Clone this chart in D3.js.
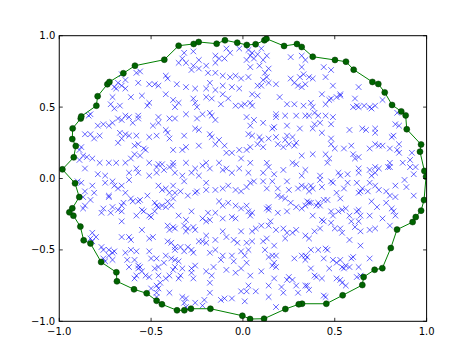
<!DOCTYPE html>
<meta charset="utf-8">
<html>
<head>
<title>Points and boundary</title>
<style>
  body { margin: 0; background: #fff; }
  svg { display: block; }
  text { font-family: "DejaVu Sans", sans-serif; font-size: 10px; fill: #000; }
</style>
</head>
<body>
<svg width="474" height="357"></svg>
<script src="https://cdn.jsdelivr.net/npm/d3@7"></script>
<script>

// boundary vertices (green), in drawing order
var hullX = [-0.35,-0.268,-0.241,-0.143,-0.098,-0.031,0.021,0.069,0.117,0.128,0.224,0.294,0.32,0.38,0.501,0.561,0.603,0.705,0.737,0.772,0.812,0.862,0.886,0.892,0.97,0.964,0.988,0.997,0.986,0.97,0.941,0.924,0.839,0.805,0.759,0.717,0.657,0.65,0.543,0.454,0.322,0.304,0.231,0.115,0.039,-0.003,-0.177,-0.283,-0.319,-0.359,-0.441,-0.47,-0.524,-0.593,-0.686,-0.689,-0.772,-0.83,-0.867,-0.885,-0.923,-0.945,-0.929,-0.891,-0.914,-0.983,-0.921,-0.91,-0.929,-0.927,-0.883,-0.88,-0.798,-0.791,-0.738,-0.727,-0.651,-0.588,-0.428];
var hullY = [0.93,0.942,0.956,0.944,0.968,0.951,0.935,0.94,0.968,0.979,0.928,0.942,0.921,0.853,0.83,0.818,0.762,0.676,0.662,0.603,0.515,0.47,0.442,0.345,0.238,0.188,0.053,0.013,-0.151,-0.225,-0.27,-0.305,-0.358,-0.487,-0.628,-0.639,-0.69,-0.746,-0.818,-0.877,-0.877,-0.881,-0.914,-0.982,-0.984,-0.961,-0.912,-0.912,-0.923,-0.923,-0.881,-0.856,-0.804,-0.776,-0.72,-0.657,-0.585,-0.455,-0.433,-0.337,-0.26,-0.237,-0.209,-0.13,-0.034,0.064,0.148,0.228,0.276,0.351,0.42,0.435,0.51,0.576,0.66,0.676,0.737,0.79,0.832];

// scattered points (blue x), read per quadrant
var pointsNW = [[-.32,.88],[-.27,.89],[-.33,.84],[-.24,.83],[-.27,.79],[-.20,.79],[-.15,.86],[-.13,.84],[-.10,.84],[-.09,.91],[-.07,.88],[-.02,.91],[-.35,.81],[-.31,.81],[-.28,.76],[-.24,.77],[-.19,.74],[-.15,.81],[-.15,.74],[-.11,.72],[-.07,.71],[-.04,.72],[-.01,.70],[-.06,.64],[-.02,.63],[-.11,.65],[-.15,.62],[-.18,.67],[-.20,.63],[-.26,.63],[-.31,.64],[-.36,.66],[-.41,.70],[-.42,.72],[-.46,.65],[-.48,.66],[-.51,.66],[-.57,.67],[-.56,.75],[-.58,.74],[-.66,.73],[-.64,.69],[-.66,.65],[-.68,.67],[-.70,.64],[-.69,.63],[-.64,.63],[-.61,.57],[-.71,.57],[-.72,.52],[-.67,.51],[-.70,.49],[-.55,.58],[-.51,.53],[-.52,.51],[-.42,.59],[-.38,.55],[-.35,.53],[-.37,.50],[-.27,.56],[-.26,.53],[-.25,.50],[-.20,.57],[-.17,.56],[-.11,.59],[-.12,.52],[-.08,.56],[-.04,.51],[-.01,.51],[-.18,.46],[-.17,.44],[-.15,.41],[-.22,.45],[-.25,.42],[-.31,.45],[-.37,.42],[-.40,.42],[-.46,.43],[-.49,.37],[-.46,.39],[-.57,.44],[-.57,.42],[-.60,.39],[-.62,.43],[-.64,.44],[-.66,.41],[-.68,.42],[-.71,.39],[-.73,.37],[-.76,.38],[-.79,.37],[-.83,.45],[-.84,.44],[-.67,.32],[-.64,.31],[-.62,.30],[-.58,.30],[-.66,.28],[-.68,.25],[-.78,.30],[-.81,.28],[-.86,.31],[-.83,.31],[-.51,.29],[-.47,.30],[-.42,.34],[-.41,.32],[-.40,.28],[-.32,.30],[-.26,.35],[-.24,.34],[-.18,.31],[-.17,.29],[-.15,.24],[-.13,.27],[-.10,.23],[-.09,.18],[-.06,.18],[-.02,.20],[-.01,.14],[-.24,.23],[-.31,.22],[-.33,.20],[-.38,.20],[-.38,.11],[-.38,.09],[-.40,.08],[-.44,.10],[-.46,.10],[-.47,.08],[-.54,.21],[-.53,.20],[-.57,.24],[-.59,.23],[-.59,.17],[-.61,.14],[-.64,.11],[-.58,.07],[-.57,.04],[-.62,.04],[-.69,.11],[-.73,.11],[-.78,.11],[-.82,.14],[-.85,.15],[-.87,.16],[-.89,.13],[-.86,.07],[-.79,.03],[-.75,.02],[-.20,.11],[-.22,.09],[-.26,.07],[-.31,.11],[-.28,.04],[-.24,.02],[-.18,.07],[-.13,.11],[-.09,.07],[-.02,.07],[-.11,.06],[-.06,.04],[-.47,.04],[-.43,.06],[-.37,.04],[-.33,.02],[-.51,.02],[-.89,.20],[-.88,.22],[-.56,.16],[-.51,.11]];

var pointsNE = [[.03,.90],[.05,.88],[.04,.86],[.02,.83],[.06,.84],[.08,.87],[.10,.91],[.13,.86],[.11,.83],[.09,.79],[.14,.77],[.12,.74],[.13,.71],[.14,.67],[.11,.69],[.04,.78],[.03,.71],[.08,.65],[.10,.65],[.18,.66],[.05,.59],[.08,.58],[.04,.53],[.05,.51],[.01,.52],[.20,.57],[.24,.52],[.28,.52],[.33,.51],[.37,.53],[.38,.50],[.39,.46],[.36,.44],[.41,.44],[.45,.44],[.26,.85],[.32,.86],[.34,.83],[.32,.78],[.33,.73],[.36,.71],[.38,.70],[.26,.70],[.28,.67],[.30,.65],[.32,.64],[.34,.66],[.31,.71],[.44,.78],[.48,.76],[.45,.71],[.49,.65],[.43,.59],[.47,.55],[.48,.56],[.51,.57],[.53,.58],[.53,.59],[.45,.52],[.61,.56],[.62,.51],[.63,.50],[.60,.50],[.63,.64],[.66,.51],[.69,.50],[.70,.49],[.72,.51],[.76,.55],[.84,.46],[.85,.37],[.83,.38],[.82,.30],[.81,.29],[.72,.35],[.72,.32],[.65,.35],[.67,.34],[.58,.34],[.49,.43],[.48,.38],[.42,.39],[.43,.32],[.38,.35],[.39,.38],[.34,.44],[.31,.35],[.27,.29],[.24,.30],[.23,.27],[.25,.24],[.28,.23],[.29,.25],[.22,.22],[.19,.24],[.18,.29],[.17,.36],[.16,.35],[.11,.39],[.06,.41],[.02,.43],[.04,.37],[.03,.31],[.05,.30],[.09,.29],[.10,.27],[.11,.22],[.14,.28],[.08,.24],[.04,.22],[.02,.20],[.13,.11],[.14,.08],[.04,.11],[.03,.04],[.11,.04],[.17,.03],[.22,.06],[.27,.11],[.29,.10],[.32,.16],[.38,.17],[.45,.17],[.47,.14],[.46,.11],[.50,.21],[.48,.28],[.48,.24],[.55,.21],[.59,.23],[.60,.17],[.61,.14],[.63,.15],[.69,.21],[.72,.24],[.74,.23],[.76,.23],[.80,.21],[.84,.20],[.85,.24],[.85,.18],[.80,.11],[.79,.08],[.74,.07],[.72,.04],[.72,.08],[.69,.06],[.70,.02],[.63,.04],[.63,.07],[.57,.03],[.52,.04],[.53,.02],[.32,.02],[.34,.06],[.42,.02],[.91,.13],[.94,.08],[.91,.08],[.87,.11],[.92,.18],[.18,.43],[.18,.45],[.23,.44],[.24,.37],[.29,.44],[.80,.08],[.93,.03]];

var pointsSW = [[-.90,-.02],[-.88,-.03],[-.82,-.05],[-.86,-.09],[-.87,-.13],[-.83,-.15],[-.86,-.19],[-.87,-.21],[-.81,-.10],[-.75,-.03],[-.71,-.02],[-.70,-.05],[-.68,-.07],[-.66,-.05],[-.62,-.01],[-.73,-.12],[-.73,-.13],[-.64,-.10],[-.61,-.14],[-.56,-.15],[-.57,-.16],[-.60,-.16],[-.65,-.17],[-.66,-.19],[-.68,-.22],[-.71,-.20],[-.76,-.21],[-.77,-.24],[-.72,-.24],[-.66,-.23],[-.66,-.30],[-.55,-.22],[-.54,-.23],[-.58,-.26],[-.51,-.26],[-.50,-.27],[-.48,-.23],[-.52,-.12],[-.48,-.17],[-.47,-.19],[-.46,-.20],[-.44,-.19],[-.42,-.20],[-.41,-.16],[-.39,-.19],[-.38,-.14],[-.38,-.05],[-.42,-.07],[-.46,-.05],[-.44,-.08],[-.40,-.10],[-.37,-.10],[-.34,-.09],[-.32,-.02],[-.30,-.12],[-.26,-.10],[-.25,-.09],[-.20,-.08],[-.20,-.03],[-.15,-.08],[-.11,-.07],[-.08,-.05],[-.04,-.08],[-.01,-.09],[-.13,-.16],[-.11,-.19],[-.08,-.17],[-.04,-.19],[-.01,-.21],[-.06,-.27],[-.04,-.28],[-.11,-.28],[-.15,-.24],[-.19,-.24],[-.22,-.28],[-.28,-.23],[-.31,-.29],[-.35,-.26],[-.38,-.34],[-.37,-.35],[-.41,-.33],[-.40,-.36],[-.32,-.33],[-.30,-.35],[-.31,-.37],[-.27,-.34],[-.26,-.36],[-.20,-.30],[-.18,-.29],[-.20,-.40],[-.22,-.44],[-.24,-.44],[-.20,-.45],[-.15,-.43],[-.11,-.37],[-.09,-.41],[-.05,-.43],[-.03,-.45],[-.01,-.37],[-.01,-.51],[-.06,-.54],[-.11,-.54],[-.12,-.57],[-.05,-.58],[-.01,-.63],[-.04,-.66],[-.09,-.64],[-.16,-.62],[-.17,-.68],[-.20,-.65],[-.18,-.73],[-.26,-.61],[-.28,-.63],[-.28,-.66],[-.27,-.70],[-.33,-.63],[-.34,-.68],[-.35,-.70],[-.37,-.62],[-.38,-.64],[-.40,-.68],[-.42,-.70],[-.46,-.68],[-.45,-.73],[-.47,-.75],[-.50,-.77],[-.47,-.83],[-.40,-.80],[-.33,-.83],[-.31,-.84],[-.32,-.87],[-.31,-.90],[-.26,-.87],[-.21,-.85],[-.18,-.80],[-.12,-.85],[-.10,-.84],[-.06,-.84],[-.01,-.79],[-.22,-.89],[-.37,-.50],[-.37,-.57],[-.39,-.56],[-.42,-.54],[-.47,-.56],[-.51,-.51],[-.50,-.56],[-.56,-.62],[-.57,-.61],[-.57,-.63],[-.55,-.65],[-.53,-.68],[-.51,-.69],[-.59,-.57],[-.62,-.62],[-.63,-.57],[-.64,-.52],[-.61,-.50],[-.58,-.51],[-.51,-.42],[-.49,-.41],[-.55,-.36],[-.62,-.41],[-.61,-.43],[-.66,-.41],[-.70,-.51],[-.73,-.50],[-.71,-.52],[-.76,-.50],[-.77,-.48],[-.76,-.56],[-.75,-.58],[-.71,-.57],[-.73,-.54],[-.83,-.42],[-.82,-.44],[-.80,-.41],[-.82,-.38],[-.41,-.44],[-.39,-.45],[-.37,-.48],[-.34,-.48],[-.32,-.51],[-.28,-.50],[-.27,-.52],[-.46,-.62],[-.48,-.63],[-.35,-.58],[-.43,-.59],[-.46,-.77],[-.47,-.80],[-.30,-.48],[-.58,-.68],[-.59,-.70],[-.18,-.52],[-.15,-.50]];

var pointsSE = [[.02,-.06],[.04,-.03],[.06,-.02],[.11,-.02],[.13,-.07],[.16,-.02],[.19,-.07],[.19,-.12],[.21,-.13],[.23,-.14],[.24,-.02],[.25,-.08],[.30,-.07],[.32,-.05],[.34,-.06],[.36,-.09],[.37,-.05],[.38,-.07],[.42,-.01],[.43,-.06],[.48,-.02],[.49,-.03],[.51,-.10],[.53,-.14],[.55,-.07],[.57,-.03],[.62,-.03],[.63,-.10],[.64,-.09],[.65,-.07],[.69,-.03],[.68,-.09],[.72,-.05],[.74,-.08],[.78,-.09],[.80,-.12],[.83,-.13],[.88,-.01],[.89,-.06],[.83,-.05],[.93,-.12],[.02,-.19],[.03,-.23],[.05,-.24],[.04,-.26],[.13,-.21],[.14,-.22],[.14,-.20],[.19,-.24],[.24,-.23],[.26,-.17],[.29,-.20],[.32,-.21],[.34,-.19],[.35,-.16],[.37,-.17],[.40,-.19],[.42,-.19],[.41,-.17],[.44,-.15],[.46,-.15],[.38,-.26],[.36,-.17],[.48,-.23],[.49,-.26],[.52,-.23],[.54,-.22],[.56,-.21],[.58,-.26],[.62,-.23],[.63,-.22],[.64,-.26],[.59,-.30],[.63,-.30],[.69,-.26],[.70,-.16],[.73,-.20],[.78,-.17],[.81,-.21],[.82,-.23],[.83,-.26],[.76,-.28],[.80,-.33],[.72,-.35],[.69,-.36],[.64,-.37],[.61,-.34],[.58,-.43],[.54,-.38],[.53,-.35],[.50,-.35],[.48,-.31],[.44,-.30],[.43,-.29],[.42,-.35],[.39,-.37],[.36,-.42],[.34,-.40],[.29,-.36],[.27,-.38],[.24,-.38],[.23,-.42],[.22,-.35],[.18,-.36],[.14,-.33],[.15,-.30],[.10,-.33],[.07,-.35],[.05,-.37],[.05,-.44],[.02,-.45],[.03,-.50],[.01,-.54],[.13,-.42],[.17,-.47],[.12,-.50],[.14,-.55],[.16,-.54],[.18,-.54],[.17,-.59],[.18,-.62],[.16,-.61],[.02,-.59],[.04,-.68],[.10,-.65],[.17,-.70],[.14,-.75],[.07,-.79],[.03,-.75],[.02,-.79],[.14,-.83],[.22,-.80],[.18,-.90],[.24,-.71],[.27,-.71],[.29,-.75],[.34,-.75],[.32,-.54],[.34,-.54],[.35,-.55],[.34,-.57],[.28,-.56],[.37,-.63],[.39,-.68],[.40,-.69],[.41,-.50],[.45,-.49],[.46,-.50],[.44,-.56],[.49,-.57],[.51,-.59],[.53,-.57],[.54,-.62],[.55,-.63],[.56,-.61],[.58,-.62],[.59,-.56],[.60,-.55],[.63,-.62],[.64,-.47],[.69,-.56],[.47,-.63],[.51,-.70],[.53,-.71],[.54,-.73],[.56,-.75],[.62,-.69],[.64,-.68],[.43,-.70],[.44,-.82],[.45,-.83],[.36,-.78],[.35,-.75],[.30,-.80],[.25,-.69],[.37,-.50],[.11,-.44],[.01,-.86],[.21,-.76]];

var tickValues = [-1.0, -0.5, 0.0, 0.5, 1.0];

var svg = d3.select("svg"),
    width = +svg.attr("width"),
    height = +svg.attr("height");

var plotLeft = 59.25, plotRight = 426.6, plotTop = 35.7, plotBottom = 321.3;

var x = d3.scaleLinear().domain([-1, 1]).range([plotLeft, plotRight]);
var y = d3.scaleLinear().domain([-1, 1]).range([plotBottom, plotTop]);

svg.append("rect").attr("width", width).attr("height", height).attr("fill", "#fff");

svg.append("clipPath").attr("id", "plotclip")
    .append("rect")
    .attr("x", plotLeft).attr("y", plotTop)
    .attr("width", plotRight - plotLeft).attr("height", plotBottom - plotTop);

var plot = svg.append("g").attr("clip-path", "url(#plotclip)");

// blue crosses
var allPoints = pointsNW.concat(pointsNE, pointsSW, pointsSE);
var s = 2.8;
plot.selectAll("path.cross")
    .data(allPoints)
    .enter()
    .append("path")
    .attr("class", "cross")
    .attr("d", function(d) {
        var cx = x(d[0]), cy = y(d[1]);
        return "M" + (cx - s) + "," + (cy - s) + "L" + (cx + s) + "," + (cy + s) +
               "M" + (cx - s) + "," + (cy + s) + "L" + (cx + s) + "," + (cy - s);
    })
    .attr("stroke", "#0000ff")
    .attr("stroke-width", 0.6)
    .attr("fill", "none");

// boundary line
var hull = hullX.map(function(v, i) { return [v, hullY[i]]; });
var line = d3.line()
    .x(function(d) { return x(d[0]); })
    .y(function(d) { return y(d[1]); });

plot.append("path")
    .attr("d", line(hull.concat([hull[0]])))
    .attr("fill", "none")
    .attr("stroke", "#008000")
    .attr("stroke-width", 1);

plot.selectAll("circle.vertex")
    .data(hull)
    .enter()
    .append("circle")
    .attr("class", "vertex")
    .attr("cx", function(d) { return x(d[0]); })
    .attr("cy", function(d) { return y(d[1]); })
    .attr("r", 3)
    .attr("fill", "#006400")
    .attr("stroke", "#003300")
    .attr("stroke-width", 0.5);

// frame
svg.append("rect")
    .attr("x", plotLeft).attr("y", plotTop)
    .attr("width", plotRight - plotLeft).attr("height", plotBottom - plotTop)
    .attr("fill", "none")
    .attr("stroke", "#000")
    .attr("stroke-width", 1);

// ticks on all four sides, pointing inwards
var tk = 3.5;
var ticks = svg.append("g").attr("stroke", "#000").attr("stroke-width", 0.8);
tickValues.forEach(function(v) {
    ticks.append("line").attr("x1", x(v)).attr("x2", x(v)).attr("y1", plotBottom).attr("y2", plotBottom - tk);
    ticks.append("line").attr("x1", x(v)).attr("x2", x(v)).attr("y1", plotTop).attr("y2", plotTop + tk);
    ticks.append("line").attr("y1", y(v)).attr("y2", y(v)).attr("x1", plotLeft).attr("x2", plotLeft + tk);
    ticks.append("line").attr("y1", y(v)).attr("y2", y(v)).attr("x1", plotRight).attr("x2", plotRight - tk);
});

var fmt = function(v) { return d3.format(".1f")(v).replace("-", "\u2212"); };

svg.selectAll("text.xt")
    .data(tickValues)
    .enter()
    .append("text")
    .attr("class", "xt")
    .attr("x", function(d) { return x(d); })
    .attr("y", plotBottom + 14)
    .attr("text-anchor", "middle")
    .text(fmt);

svg.selectAll("text.yt")
    .data(tickValues)
    .enter()
    .append("text")
    .attr("class", "yt")
    .attr("x", plotLeft - 4)
    .attr("y", function(d) { return y(d) + 3.5; })
    .attr("text-anchor", "end")
    .text(fmt);

</script>
</body>
</html>
